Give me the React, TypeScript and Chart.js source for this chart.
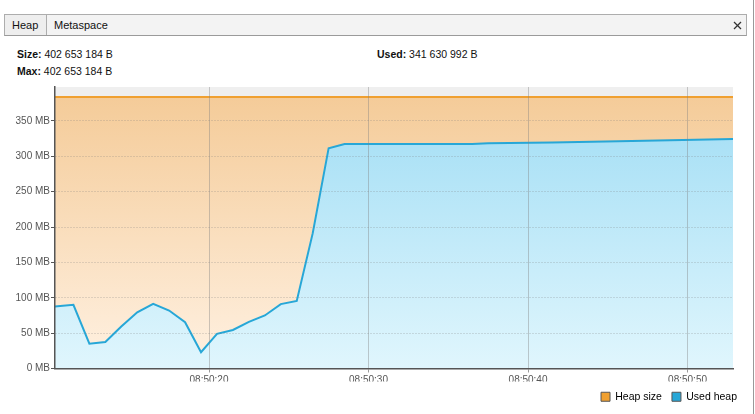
import React, { useEffect, useRef } from "react";
import { Chart, registerables } from "chart.js";

Chart.register(...registerables);

// ---- data (seconds after 08:50:00, values in MB) ----
const usedTimes = [9.5, 10.5, 11.5, 12.5, 13.5, 14.5, 15.5, 16.5, 17.5, 18.5, 19.5, 20.5, 21.5, 22.5, 23.5, 24.5, 25.5, 26.5, 27.5, 28.5, 32.5, 36.5, 37.5, 41.5, 46.5, 50.5, 53.5];
const usedMB = [86, 88, 90, 35, 37.5, 59.5, 79.5, 91.5, 82, 65.5, 23, 49, 54.5, 66, 75, 91, 95.5, 191, 311.5, 317.5, 317.5, 317.5, 318.5, 319.5, 321.5, 323.5, 324.8];
const heapTimes = [9.5, 53.5];
const heapMB = [384, 384];
const yTicks = [0, 50, 100, 150, 200, 250, 300, 350];
const xTicks = [20, 30, 40, 50];
const xTickLabels = ["08:50:20", "08:50:30", "08:50:40", "08:50:50"];
const seriesNames = ["Heap size", "Used heap"];
const seriesColors = ["#f0a030", "#27a7d7"];

const FONT = "'Liberation Sans', Arial, sans-serif";

export default function App() {
  const ref = useRef<HTMLCanvasElement>(null);

  useEffect(() => {
    if (!ref.current) return;
    const bgPlugin = {
      id: "plotBg",
      beforeDraw(chart: any) {
        const { ctx, chartArea: a } = chart;
        if (!a) return;
        ctx.save();
        ctx.fillStyle = "#efefef";
        ctx.fillRect(a.left, a.top, a.right - a.left, a.bottom - a.top);
        ctx.restore();
      },
    };
    const grad = (c0: string, c1: string) => (context: any) => {
      const chart = context.chart;
      const a = chart.chartArea;
      if (!a) return c0;
      const g = chart.ctx.createLinearGradient(0, a.top, 0, a.bottom);
      g.addColorStop(0, c0);
      g.addColorStop(1, c1);
      return g;
    };

    const chart = new Chart(ref.current, {
      type: "line",
      data: {
        datasets: [
          {
            label: seriesNames[1],
            data: usedTimes.map((t, i) => ({ x: t, y: usedMB[i] })),
            borderColor: seriesColors[1],
            backgroundColor: grad("#9edcf4", "#e0f6fd"),
            fill: "origin",
            borderWidth: 2,
            pointRadius: 0,
            tension: 0,
            xAxisID: "x",
            yAxisID: "y",
          },
          {
            label: seriesNames[0],
            data: heapTimes.map((t, i) => ({ x: t, y: heapMB[i] })),
            borderColor: seriesColors[0],
            backgroundColor: grad("#f4ca96", "#fff1e2"),
            fill: "origin",
            borderWidth: 2,
            pointRadius: 0,
            tension: 0,
            xAxisID: "x",
            yAxisID: "y",
          },
        ],
      },
      options: {
        responsive: false,
        maintainAspectRatio: false,
        animation: false,
        events: [],
        layout: { padding: { top: 7, right: 8, bottom: 2, left: 0 } },
        scales: {
          x: {
            type: "linear",
            min: 10.345,
            max: 52.85,
            afterBuildTicks: (s: any) => {
              s.ticks = xTicks.map((v) => ({ value: v }));
            },
            afterFit: (s: any) => {
              s.height = 13;
            },
            grid: { color: "rgba(128,128,128,0.4)", tickColor: "#9a9a9a", tickLength: 4, lineWidth: 1, z: 1 },
            border: { color: "#555", width: 1.5, z: 2 },
            ticks: {
              color: "#555",
              font: { family: FONT, size: 10 },
              padding: 2,
              maxRotation: 0,
              autoSkip: false,
              callback: (_v: any, i: number) => xTickLabels[i],
            },
          },
          y: {
            type: "linear",
            min: 0,
            max: 398,
            afterBuildTicks: (s: any) => {
              s.ticks = yTicks.map((v) => ({ value: v }));
            },
            afterFit: (s: any) => {
              s.width = 55;
            },
            grid: { color: "rgba(120,120,120,0.45)", tickColor: "#555", tickLength: 4, lineWidth: 1, z: 1 },
            border: { color: "#555", width: 1.5, dash: [1, 2], z: 2 },
            ticks: {
              color: "#555",
              font: { family: FONT, size: 10 },
              padding: 1,
              callback: (v: any) => v + " MB",
            },
          },
          yR: {
            type: "linear",
            position: "right",
            display: true,
            grid: { display: false },
            border: { display: false },
            ticks: { display: false },
            afterFit: (s: any) => {
              s.width = 14;
            },
          },
        },
        plugins: {
          tooltip: { enabled: false },
          legend: {
            position: "bottom",
            align: "end",
            labels: {
              boxWidth: 9,
              boxHeight: 9,
              padding: 10,
              color: "#222",
              font: { family: FONT, size: 10.5 },
              generateLabels: () => [
                { text: seriesNames[0], fillStyle: seriesColors[0], strokeStyle: "#555", lineWidth: 1, hidden: false, datasetIndex: 1 },
                { text: seriesNames[1], fillStyle: seriesColors[1], strokeStyle: "#555", lineWidth: 1, hidden: false, datasetIndex: 0 },
              ],
            },
          },
        },
      },
      plugins: [bgPlugin],
    } as any);
    return () => chart.destroy();
  }, []);

  const txt: React.CSSProperties = {
    position: "absolute",
    fontSize: "10.5px",
    lineHeight: "17px",
    color: "#111",
    whiteSpace: "nowrap",
  };

  return (
    <div style={{ position: "absolute", left: 0, top: 0, width: 755, height: 414, overflow: "hidden", background: "#fff", fontFamily: FONT }}>
      {/* tab bar */}
      <div style={{ position: "absolute", left: 4, top: 14, width: 743, height: 22, boxSizing: "border-box", border: "1px solid #adadad", borderBottom: "1px solid #9a9a9a", background: "#f3f3f3" }}>
        <div style={{ position: "absolute", left: 0, top: 0, width: 41, height: 20, borderRight: "1px solid #adadad", background: "#eeeeee" }} />
        <div style={{ position: "absolute", left: 7, top: 0, height: 20, lineHeight: "20px", fontSize: "11px", color: "#111" }}>Heap</div>
        <div style={{ position: "absolute", left: 49, top: 0, height: 20, lineHeight: "20px", fontSize: "11px", color: "#111" }}>Metaspace</div>
        <svg style={{ position: "absolute", left: 728, top: 6, width: 9, height: 9 }} viewBox="0 0 9 9">
          <line x1="1" y1="1" x2="8" y2="8" stroke="#333" strokeWidth="1.2" />
          <line x1="8" y1="1" x2="1" y2="8" stroke="#333" strokeWidth="1.2" />
        </svg>
      </div>
      {/* right panel border */}
      <div style={{ position: "absolute", left: 753, top: 0, width: 1, height: 414, background: "#999" }} />
      {/* header info */}
      <div style={{ ...txt, left: 17, top: 46 }}>
        <b>Size:</b> 402 653 184 B
      </div>
      <div style={{ ...txt, left: 17, top: 63 }}>
        <b>Max:</b> 402 653 184 B
      </div>
      <div style={{ ...txt, left: 377, top: 46 }}>
        <b>Used:</b> 341 630 992 B
      </div>
      <canvas
        ref={ref}
        width={755}
        height={334}
        style={{ position: "absolute", left: 0, top: 80, width: 755, height: 334 }}
      />
    </div>
  );
}
